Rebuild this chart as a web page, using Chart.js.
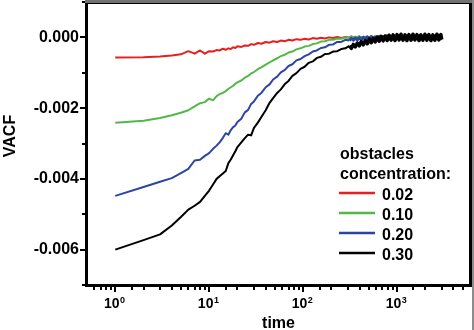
<!DOCTYPE html>
<html>
<head>
<meta charset="utf-8">
<script src="https://cdn.jsdelivr.net/npm/chart.js@4.4.1/dist/chart.umd.min.js"></script>
<style>
  html, body { margin: 0; padding: 0; background: #fff; }
</style>
</head>
<body>
<canvas id="vacf" width="474" height="330"></canvas>
<script>
// time samples shared by all four curves
const times = [
  1, 2, 3, 4, 5, 6, 7, 8, 9, 10,
  11, 12, 13, 14, 15, 16, 17, 18, 19, 20,
  22, 24, 26, 28, 30, 33, 36, 40, 44, 48,
  53, 58, 64, 70, 77, 85, 94, 104, 115, 127,
  140, 155, 171, 189, 209, 231, 255, 282, 311, 327,
  343, 360, 378, 397, 417, 438, 460, 483, 507, 532,
  559, 587, 616, 647, 679, 713, 749, 786, 825, 866,
  910, 955, 1003, 1053, 1106, 1161, 1219, 1280, 1344, 1411,
  1482, 1556, 1634, 1716, 1801, 1891, 1986, 2085, 2190, 2299,
  2414, 2535, 2662, 2795, 2935, 3000
];

const conc002 = [
  -0.00057, -0.00056, -0.00054, -0.00051, -0.00048, -0.00039, -0.00046, -0.00037, -0.00046, -0.00039,
  -0.00040, -0.00036, -0.00037, -0.00032, -0.00035, -0.00031, -0.00033, -0.00028, -0.00030, -0.00025,
  -0.00027, -0.00023, -0.00024, -0.00019, -0.00021, -0.00016, -0.00018, -0.00013, -0.00015, -0.00011,
  -0.00013, -0.00009, -0.00011, -0.00007, -0.00009, -0.00005, -0.00007, -0.00004, -0.00006, -0.00002,
  -0.00004, -0.00001, -0.00003, 0.00000, -0.00002, 0.00001, -0.00002, 0.00001, -0.00001, 0.00002,
  -0.00002, 0.00001, -0.00001, 0.00002, -0.00002, 0.00001, 0.00000, 0.00002, -0.00002, 0.00001,
  -0.00001, 0.00002, -0.00002, 0.00000, 0.00002, -0.00001, 0.00001, -0.00002, 0.00002, -0.00001,
  0.00001, -0.00002, 0.00002, 0.00000, -0.00001, 0.00002, -0.00002, 0.00001, -0.00001, 0.00002,
  -0.00002, 0.00001, 0.00000, 0.00002, -0.00002, 0.00001, -0.00001, 0.00002, -0.00002, 0.00001,
  -0.00001, 0.00002, -0.00002, 0.00001, -0.00001, 0.00001
];

const conc010 = [
  -0.00241, -0.00236, -0.00228, -0.00220, -0.00213, -0.00206, -0.00195, -0.00186, -0.00183, -0.00173,
  -0.00178, -0.00166, -0.00160, -0.00157, -0.00152, -0.00146, -0.00141, -0.00137, -0.00131, -0.00127,
  -0.00122, -0.00114, -0.00109, -0.00102, -0.00098, -0.00090, -0.00085, -0.00077, -0.00071, -0.00065,
  -0.00059, -0.00053, -0.00049, -0.00043, -0.00040, -0.00034, -0.00031, -0.00026, -0.00024, -0.00019,
  -0.00017, -0.00012, -0.00011, -0.00007, -0.00007, -0.00003, -0.00004, 0.00000, -0.00002, 0.00002,
  -0.00003, 0.00001, -0.00001, 0.00003, -0.00002, 0.00001, -0.00002, 0.00002, -0.00001, 0.00003,
  -0.00002, 0.00000, 0.00002, -0.00003, 0.00001, -0.00001, 0.00003, -0.00002, 0.00001, -0.00003,
  0.00002, -0.00001, 0.00003, -0.00002, 0.00000, 0.00002, -0.00003, 0.00001, -0.00001, 0.00003,
  -0.00002, 0.00002, -0.00003, 0.00001, 0.00000, 0.00003, -0.00002, 0.00001, -0.00003, 0.00002,
  -0.00001, 0.00003, -0.00002, 0.00001, -0.00002, 0.00001
];

const conc020 = [
  -0.00448, -0.00423, -0.00408, -0.00398, -0.00384, -0.00372, -0.00348, -0.00346, -0.00335, -0.00327,
  -0.00315, -0.00306, -0.00296, -0.00284, -0.00271, -0.00275, -0.00262, -0.00254, -0.00249, -0.00239,
  -0.00230, -0.00212, -0.00205, -0.00188, -0.00181, -0.00165, -0.00157, -0.00141, -0.00133, -0.00119,
  -0.00111, -0.00099, -0.00092, -0.00081, -0.00076, -0.00065, -0.00061, -0.00053, -0.00048, -0.00040,
  -0.00037, -0.00030, -0.00028, -0.00021, -0.00020, -0.00013, -0.00013, -0.00007, -0.00009, -0.00003,
  -0.00008, -0.00002, -0.00007, -0.00001, -0.00006, 0.00000, -0.00005, 0.00001, -0.00004, 0.00002,
  -0.00005, 0.00001, -0.00003, 0.00003, -0.00004, 0.00002, -0.00003, 0.00004, -0.00004, 0.00002,
  -0.00005, 0.00003, -0.00002, 0.00004, -0.00004, 0.00001, -0.00003, 0.00005, -0.00004, 0.00003,
  -0.00005, 0.00002, -0.00002, 0.00004, -0.00005, 0.00003, -0.00003, 0.00005, -0.00004, 0.00002,
  -0.00005, 0.00004, -0.00003, 0.00005, -0.00004, 0.00002
];

const conc030 = [
  -0.00600, -0.00573, -0.00557, -0.00532, -0.00508, -0.00487, -0.00476, -0.00465, -0.00448, -0.00433,
  -0.00416, -0.00400, -0.00392, -0.00385, -0.00378, -0.00356, -0.00345, -0.00333, -0.00322, -0.00310,
  -0.00297, -0.00285, -0.00275, -0.00277, -0.00256, -0.00241, -0.00225, -0.00206, -0.00185, -0.00172,
  -0.00157, -0.00147, -0.00132, -0.00123, -0.00109, -0.00101, -0.00089, -0.00083, -0.00072, -0.00068,
  -0.00058, -0.00055, -0.00047, -0.00046, -0.00040, -0.00039, -0.00033, -0.00031, -0.00024, -0.00031,
  -0.00020, -0.00027, -0.00016, -0.00024, -0.00012, -0.00021, -0.00009, -0.00018, -0.00005, -0.00015,
  -0.00003, -0.00013, 0.00001, -0.00011, 0.00003, -0.00010, 0.00004, -0.00009, 0.00006, -0.00008,
  0.00007, -0.00009, 0.00008, -0.00007, 0.00009, -0.00008, 0.00007, -0.00009, 0.00008, -0.00008,
  0.00009, -0.00007, 0.00008, -0.00009, 0.00007, -0.00008, 0.00009, -0.00008, 0.00008, -0.00009,
  0.00007, -0.00008, 0.00009, -0.00007, 0.00008, -0.00006
];

const seriesLabels = ['0.02', '0.10', '0.20', '0.30'];
const seriesColors = ['#e6201e', '#52b848', '#2b46a1', '#000000'];
// the noisy long-time part is dense in the original, so it reads as a thicker band
const tailWidths = [2.5, 2.5, 3, 3.5];

const yTickValues = [0, -0.002, -0.004, -0.006];
const yTickLabels = ['0.000', '-0.002', '-0.004', '-0.006'];
const xTickValues = [1, 10, 100, 1000];
const xTickExponents = ['0', '1', '2', '3'];

const FONT = '"Liberation Sans", Arial, sans-serif';

const decorations = {
  id: 'decorations',
  beforeDraw(chart) {
    const ctx = chart.ctx;
    ctx.save();
    ctx.fillStyle = '#fff';
    ctx.fillRect(0, 0, chart.width, chart.height);
    ctx.restore();
  },
  afterDraw(chart) {
    const { ctx, chartArea: a, scales: { x, y } } = chart;
    const L = Math.round(a.left), R = Math.round(a.right);
    const T = Math.round(a.top), B = Math.round(a.bottom);
    ctx.save();

    // frame, about 3px like the original
    ctx.fillStyle = '#000';
    ctx.fillRect(L - 2, T - 1, 3, B - T + 3);
    ctx.fillRect(R - 1, T - 1, 3, B - T + 3);
    ctx.fillRect(L - 2, B - 1, R - L + 4, 3);
    ctx.fillRect(L - 2, T - 1, R - L + 4, 3);

    // outward tick marks, long on labelled values
    y.ticks.forEach(t => {
      const py = Math.round(y.getPixelForValue(t.value));
      const len = yTickValues.some(v => Math.abs(v - t.value) < 1e-9) ? 7 : 5;
      ctx.fillRect(L - len, py - 1, len, 2);
    });
    x.ticks.forEach(t => {
      if (t.value <= x.min || t.value >= x.max) return;
      const px = Math.round(x.getPixelForValue(t.value));
      const len = xTickValues.some(v => Math.abs(v - t.value) < 1e-9) ? 7 : 5;
      ctx.fillRect(px - 1, B, 2, len);
    });

    // x labels 10^n
    ctx.textBaseline = 'alphabetic';
    ctx.textAlign = 'left';
    xTickValues.forEach((v, i) => {
      const px = x.getPixelForValue(v);
      ctx.font = 'bold 14px ' + FONT;
      const w1 = ctx.measureText('10').width;
      ctx.font = 'bold 9px ' + FONT;
      const w2 = ctx.measureText(xTickExponents[i]).width;
      const left = px - (w1 + w2) / 2 - 1;
      ctx.font = 'bold 14px ' + FONT;
      ctx.fillText('10', left, B + 23);
      ctx.font = 'bold 9px ' + FONT;
      ctx.fillText(xTickExponents[i], left + w1 + 0.5, B + 17.5);
    });

    // axis titles
    ctx.font = 'bold 16px ' + FONT;
    ctx.textAlign = 'center';
    ctx.fillText('time', (L + R) / 2, 328);
    ctx.save();
    ctx.translate(15, 136);
    ctx.rotate(-Math.PI / 2);
    ctx.fillText('VACF', 0, 0);
    ctx.restore();

    // legend
    ctx.textAlign = 'left';
    ctx.fillText('obstacles', 340, 159);
    ctx.fillText('concentration:', 340, 179);
    chart.data.datasets.forEach((ds, i) => {
      const ly = 193 + i * 20;
      ctx.strokeStyle = ds.borderColor;
      ctx.lineWidth = 2.5;
      ctx.beginPath();
      ctx.moveTo(339, ly);
      ctx.lineTo(375, ly);
      ctx.stroke();
      ctx.fillText(ds.label, 382, ly + 6.5);
    });

    // cropped edges of the original figure
    ctx.fillStyle = '#727272';
    ctx.fillRect(L - 2, 0, chart.width - L + 2, 3);
    ctx.fillStyle = '#8c8c8c';
    ctx.fillRect(R + 2, 0, chart.width - R - 2, chart.height);
    ctx.restore();
  }
};

const series = [conc002, conc010, conc020, conc030];

new Chart(document.getElementById('vacf'), {
  type: 'line',
  data: {
    datasets: series.map((vals, i) => ({
      label: seriesLabels[i],
      data: times.map((t, j) => ({ x: t, y: vals[j] })),
      borderColor: seriesColors[i],
      borderWidth: 2,
      borderJoinStyle: 'round',
      pointRadius: 0,
      tension: 0,
      order: series.length - i,
      segment: {
        borderWidth: c => (c.p0.parsed.x >= 300 ? tailWidths[i] : 2)
      }
    }))
  },
  options: {
    responsive: false,
    animation: false,
    layout: { padding: { top: 2, right: 4, left: 0, bottom: 0 } },
    plugins: { legend: { display: false }, tooltip: { enabled: false } },
    scales: {
      x: {
        type: 'logarithmic',
        min: 0.5,
        max: 6000,
        grid: { display: false, drawTicks: false },
        border: { display: false },
        ticks: { display: false },
        afterFit(s) { s.height = 45; s.paddingLeft = 0; s.paddingRight = 0; }
      },
      y: {
        min: -0.007,
        max: 0.001,
        grid: { display: false, drawTicks: false },
        border: { display: false },
        ticks: {
          stepSize: 0.001,
          autoSkip: false,
          padding: 8,
          color: '#000',
          font: { family: FONT, size: 16, weight: 'bold' },
          callback(v) {
            const j = yTickValues.findIndex(t => Math.abs(t - v) < 1e-9);
            return j >= 0 ? yTickLabels[j] : '';
          }
        },
        afterFit(s) { s.width = 87; s.paddingTop = 0; s.paddingBottom = 0; }
      }
    }
  },
  plugins: [decorations]
});
</script>
</body>
</html>
